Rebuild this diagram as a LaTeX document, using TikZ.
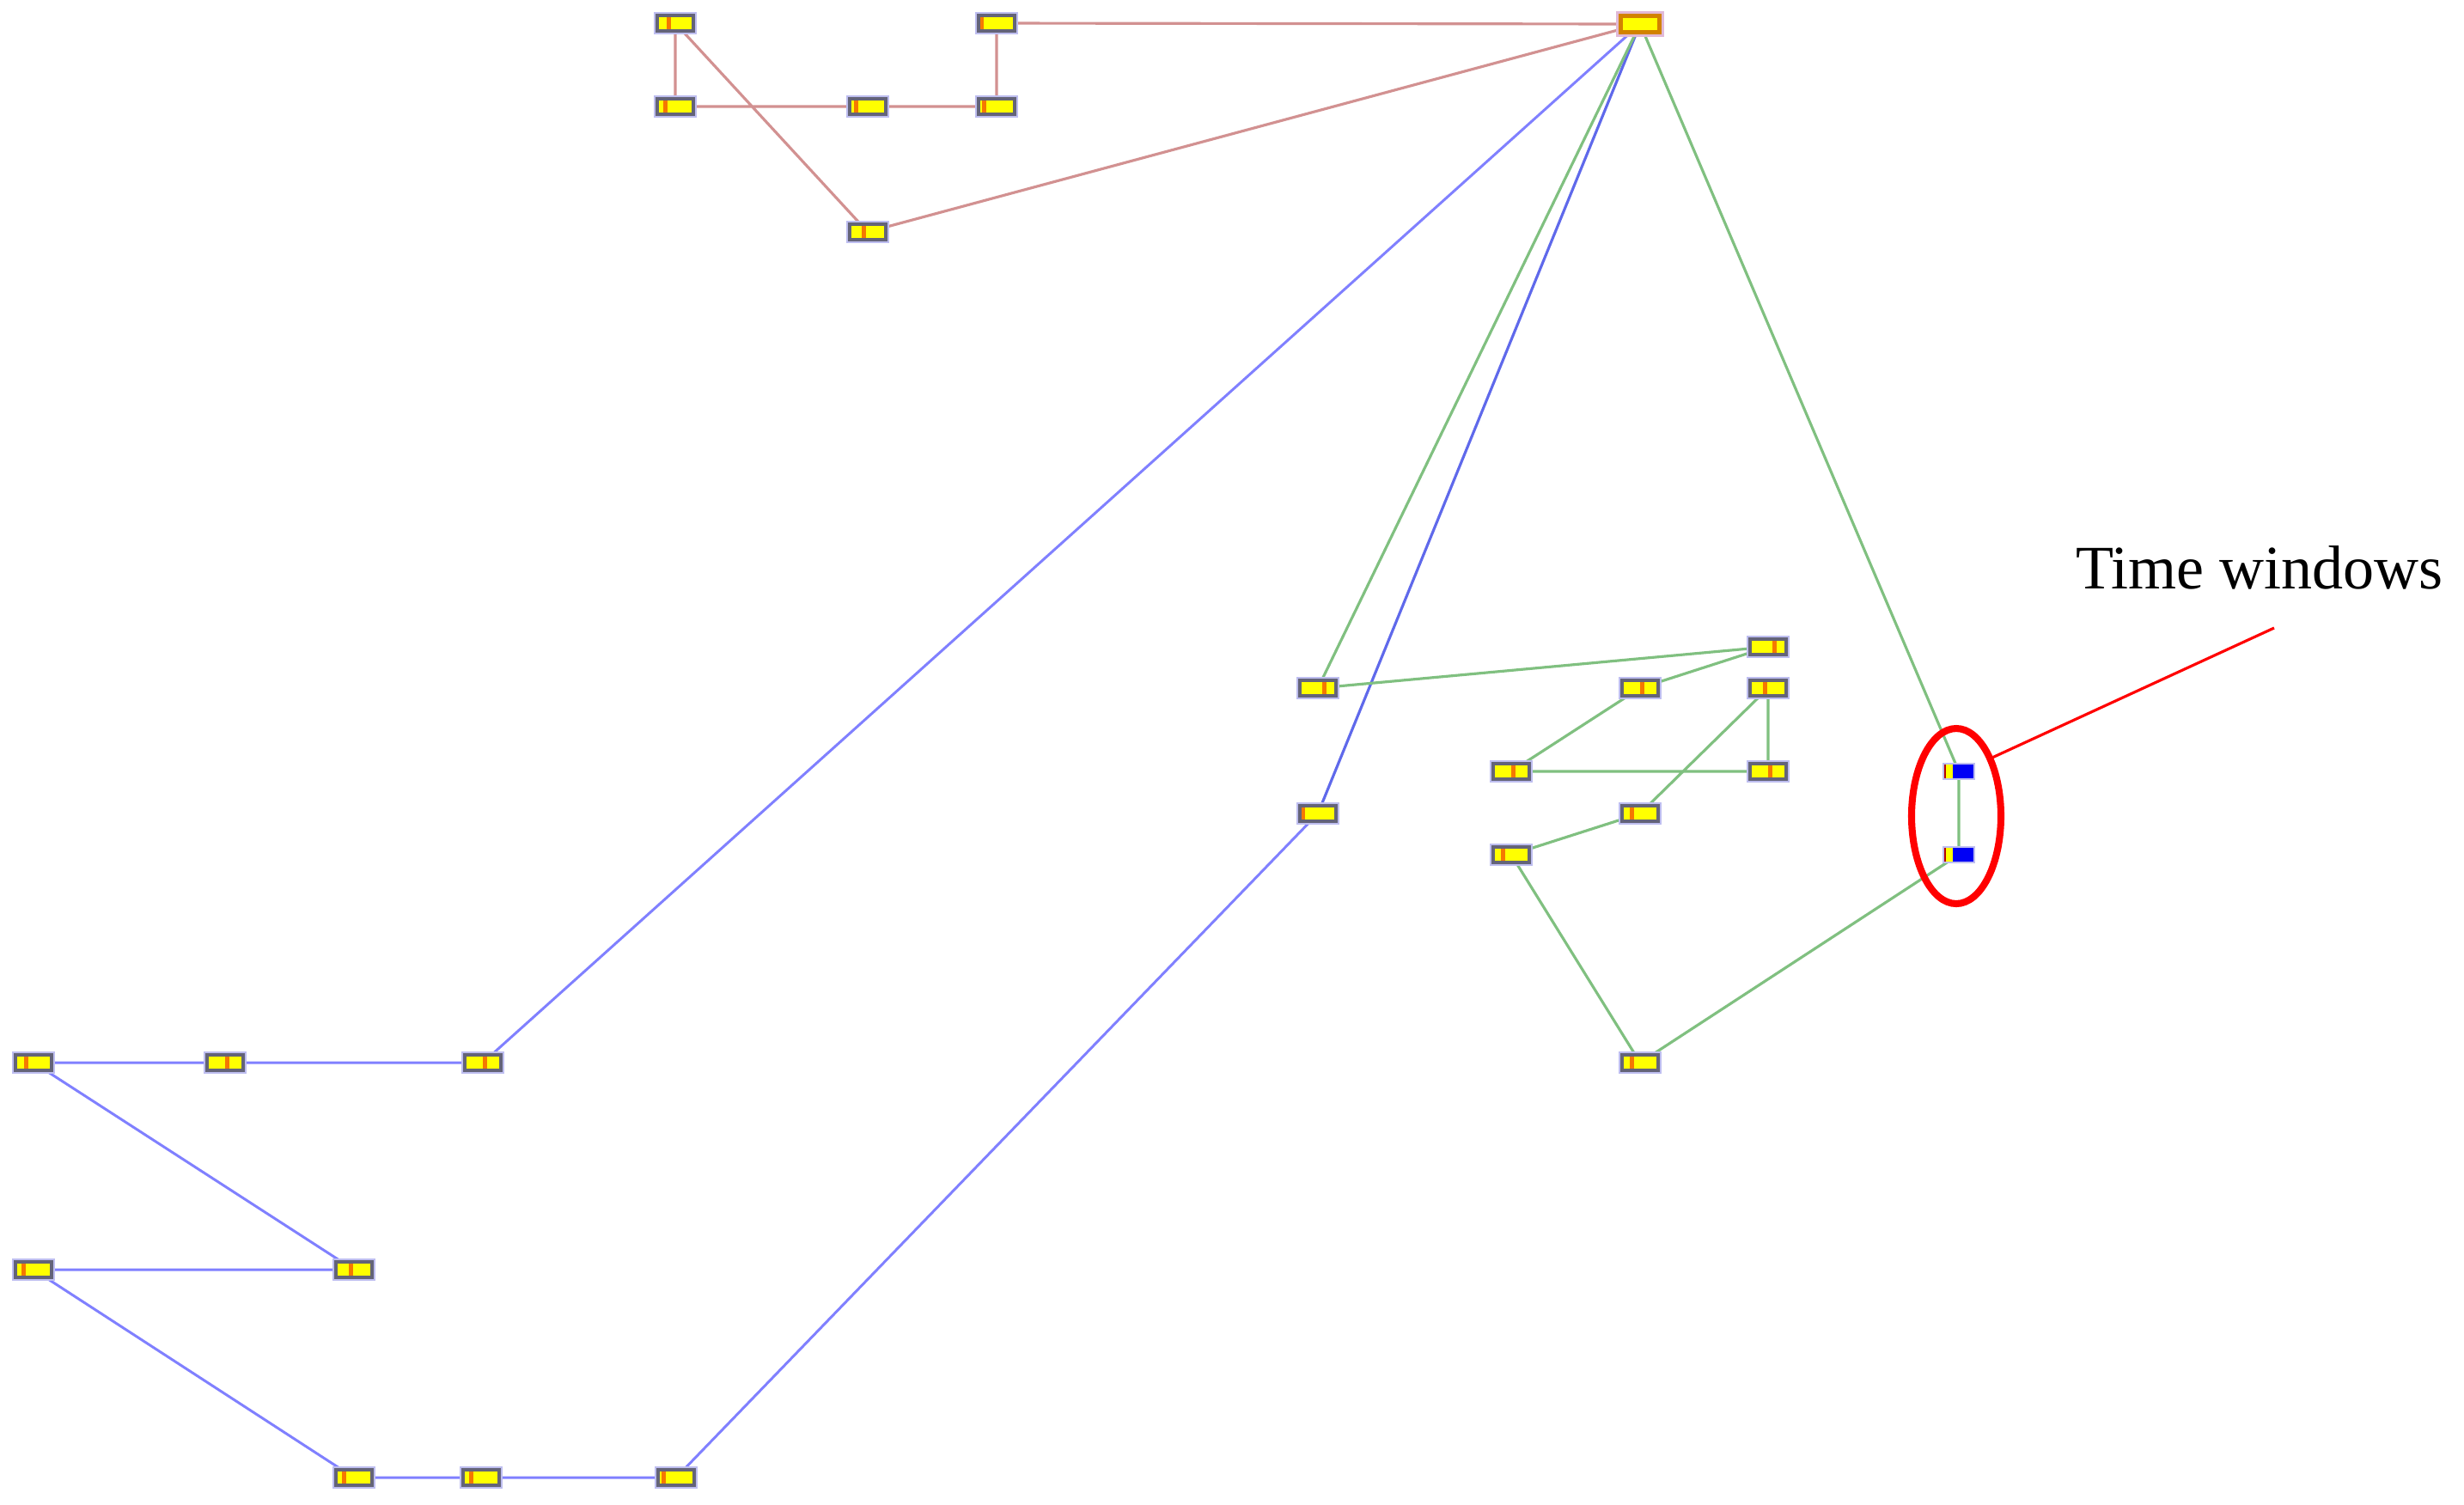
\documentclass[tikz,border=0pt]{standalone}
\usepackage{fontspec}
\setmainfont{Liberation Serif}
\usetikzlibrary{shapes.geometric,backgrounds}
\definecolor{redroute}{RGB}{210,145,145}
\definecolor{blueroute}{RGB}{128,128,255}
\definecolor{blueroutedk}{RGB}{95,105,235}
\definecolor{greenroute}{RGB}{128,192,128}
\definecolor{halo}{RGB}{190,190,240}
\definecolor{pinkhalo}{RGB}{225,185,215}
\definecolor{nodeedge}{RGB}{100,100,120}
\definecolor{stripecol}{RGB}{245,120,0}
\definecolor{depotedge}{RGB}{210,130,0}
\definecolor{ylw}{RGB}{255,255,0}
\definecolor{twblue}{RGB}{0,0,245}
\tikzset{
  veh/.style={rectangle, inner sep=0pt, minimum width=0.42cm, minimum height=0.18cm,
    fill=ylw, draw=nodeedge, line width=0.9pt,
    preaction={draw=halo, line width=2.4pt},
    path picture={\fill[stripecol] ([xshift=#1]path picture bounding box.south) rectangle ++(0.05cm,0.3cm);}},
  veh/.default=-0.12cm,
  depotbox/.style={rectangle, inner sep=0pt, minimum width=0.45cm, minimum height=0.19cm,
    fill=ylw, draw=depotedge, line width=1.3pt,
    preaction={draw=pinkhalo, line width=3pt}},
  twbox/.style={rectangle, inner sep=0pt, minimum width=0.36cm, minimum height=0.18cm,
    fill=twblue, draw=halo, line width=0.8pt,
    path picture={\fill[ylw] (path picture bounding box.south west) rectangle ++(0.11cm,0.3cm);
                  \fill[red!70!black] (path picture bounding box.south west) rectangle ++(0.03cm,0.3cm);}},
  rroute/.style={draw=redroute, line width=0.9pt},
  broute/.style={draw=blueroute, line width=0.85pt},
  broutedk/.style={draw=blueroutedk, line width=0.9pt},
  groute/.style={draw=greenroute, line width=0.9pt},
  twring/.style={ellipse, draw=red, line width=2.3pt, minimum width=1.04cm, minimum height=2.04cm, inner sep=0pt},
  pointer/.style={draw=red, line width=0.9pt},
  twlabel/.style={font=\fontsize{20.5}{24}\selectfont, anchor=base, inner sep=0pt}
}
\begin{document}
\begin{tikzpicture}
\useasboundingbox (0,0) rectangle (28.68,-17.51);
% depot
\node[depotbox] (D) at (19.09,-0.28) {};
% red route
\node[veh=-0.1cm] (A1) at (7.86,-0.27) {};
\node[veh=-0.2cm] (A2) at (11.60,-0.27) {};
\node[veh=-0.14cm] (A3) at (7.86,-1.24) {};
\node[veh=-0.16cm] (A4) at (10.10,-1.24) {};
\node[veh=-0.17cm] (A5) at (11.60,-1.24) {};
\node[veh=-0.07cm] (A6) at (10.10,-2.70) {};
% blue route
\node[veh=0.0cm] (B1) at (5.62,-12.37) {};
\node[veh=0.0cm] (B2) at (2.62,-12.37) {};
\node[veh=-0.11cm] (B3) at (0.39,-12.37) {};
\node[veh=-0.06cm] (B4) at (4.12,-14.78) {};
\node[veh=-0.14cm] (B5) at (0.39,-14.78) {};
\node[veh=-0.14cm] (B6) at (4.12,-17.20) {};
\node[veh=-0.14cm] (B7) at (5.60,-17.20) {};
\node[veh=-0.17cm] (B8) at (7.87,-17.20) {};
\node[veh=-0.2cm] (B9) at (15.34,-9.47) {};
% green route
\node[veh=0.05cm] (G1) at (15.34,-8.01) {};
\node[veh=0.05cm] (G2) at (20.58,-7.53) {};
\node[veh=0.0cm] (G3) at (19.09,-8.01) {};
\node[veh=0.0cm] (G4) at (17.59,-8.98) {};
\node[veh=0.0cm] (G5) at (20.58,-8.98) {};
\node[veh=-0.06cm] (G6) at (20.58,-8.01) {};
\node[veh=-0.12cm] (G7) at (19.09,-9.47) {};
\node[veh=-0.12cm] (G8) at (17.59,-9.95) {};
\node[veh=-0.12cm] (G9) at (19.09,-12.37) {};
\node[twbox] (T1) at (22.80,-8.98) {};
\node[twbox] (T2) at (22.80,-9.95) {};
% annotation
\node[twring] (ring) at (22.77,-9.50) {};
\coordinate (tip) at (26.47,-7.31);
\node[twlabel] (lbl) at (26.30,-6.85) {Time windows};
\begin{pgfonlayer}{background}
\draw[rroute] (D.center) -- (A2.center) -- (A5.center) -- (A4.center) -- (A3.center) -- (A1.center) -- (A6.center) -- (D.center);
\draw[broute] (D.center) -- (B1.center) -- (B2.center) -- (B3.center) -- (B4.center) -- (B5.center) -- (B6.center) -- (B7.center) -- (B8.center) -- (B9.center);
\draw[broutedk] (B9.center) -- (D.center);
\draw[groute] (D.center) -- (G1.center) -- (G2.center) -- (G3.center) -- (G4.center) -- (G5.center) -- (G6.center) -- (G7.center) -- (G8.center) -- (G9.center) -- (T2.center) -- (T1.center) -- (D.center);
\end{pgfonlayer}
\draw[pointer] (ring.58) -- (tip);
\end{tikzpicture}
\end{document}
